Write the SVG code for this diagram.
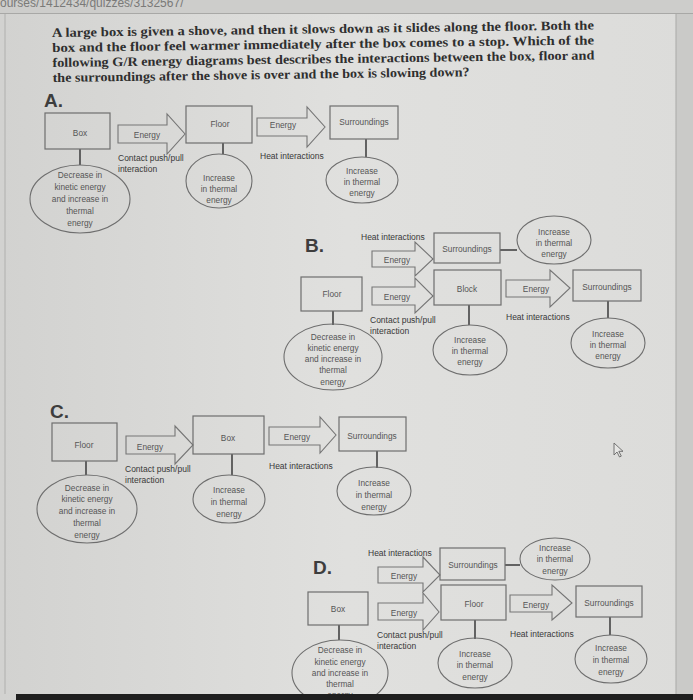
<svg xmlns="http://www.w3.org/2000/svg" width="693" height="700" viewBox="0 0 693 700">
<defs>
<linearGradient id="pg" x1="0" y1="0" x2="1" y2="0">
<stop offset="0" stop-color="#d2d2d0"/>
<stop offset="0.5" stop-color="#e0e0de"/>
<stop offset="1" stop-color="#dcdcda"/>
</linearGradient>
<style>
.ttl{font-family:"Liberation Serif",serif;font-weight:bold;font-size:13px;fill:#2f2f2f}
.big{font-family:"Liberation Sans",sans-serif;font-weight:bold;font-size:19px;fill:#3d3d3d}
.n{font-family:"Liberation Sans",sans-serif;font-size:8.3px;fill:#555;text-anchor:middle}
.e{font-family:"Liberation Sans",sans-serif;font-size:8.3px;fill:#555;text-anchor:middle}
.c{font-family:"Liberation Sans",sans-serif;font-size:8.5px;fill:#383838}
.r{fill:none;stroke:#6e6e6e;stroke-width:1.2}
.a{fill:none;stroke:#767676;stroke-width:1.1;stroke-linejoin:miter}
.s{stroke:#555;stroke-width:1.8}
.el{fill:none;stroke:#6e6e6e;stroke-width:1.1}
</style>
</defs>
<rect x="0" y="0" width="693" height="700" fill="url(#pg)"/>
<rect x="676" y="0" width="17" height="700" fill="#cacac8"/>
<line x1="676" y1="13" x2="676" y2="694" stroke="#a9a9a7" stroke-width="1"/>
<rect x="0" y="0" width="693" height="13" fill="#cdcdcb"/>
<line x1="0" y1="13.5" x2="693" y2="13.5" stroke="#a8a8a6" stroke-width="1"/>
<line x1="5" y1="14" x2="5" y2="694" stroke="#b0b0ae" stroke-width="1"/>
<text x="0" y="7" font-family="Liberation Sans,sans-serif" font-size="12" fill="#7a7a78">ourses/1412434/quizzes/3132567/</text>

<g id="question" transform="rotate(-0.8 52 37)">
<text class="ttl" x="52" y="37" textLength="542" lengthAdjust="spacingAndGlyphs">A large box is given a shove, and then it slows down as it slides along the floor.  Both the</text>
<text class="ttl" x="52" y="52" textLength="542" lengthAdjust="spacingAndGlyphs">box and the floor feel warmer immediately after the box comes to a stop.  Which of the</text>
<text class="ttl" x="52" y="67" textLength="542" lengthAdjust="spacingAndGlyphs">following G/R energy diagrams best describes the interactions between the box, floor and</text>
<text class="ttl" x="52" y="82" textLength="417" lengthAdjust="spacingAndGlyphs">the surroundings after the shove is over and the box is slowing down?</text>
</g>

<!-- Option labels -->
<text class="big" x="44" y="107">A.</text>
<text class="big" x="305" y="252">B.</text>
<text class="big" x="50" y="418">C.</text>
<text class="big" x="313" y="574">D.</text>

<!-- Connectors (arrows, stems, labels) -->
<g id="connectors">
<!-- A -->
<polygon class="a" points="118,125 167,125 167,114 185,134 167,154 167,143 118,143"/>
<text class="n" x="147" y="138">Energy</text>
<text class="c" x="118" y="161">Contact push/pull</text>
<text class="c" x="118" y="172">interaction</text>
<polygon class="a" points="257,118 307,118 307,107 325,127 307,147 307,136 257,136"/>
<text class="n" x="283" y="128">Energy</text>
<text class="c" x="260" y="159">Heat interactions</text>
<line class="s" x1="80" y1="149" x2="80" y2="165"/>
<line class="s" x1="223" y1="143" x2="223" y2="154"/>
<line class="s" x1="366" y1="139" x2="366" y2="157"/>
<!-- B -->
<text class="c" x="361" y="240">Heat interactions</text>
<polygon class="a" points="372,251 415,251 415,242 433,259 415,276 415,267 372,267"/>
<text class="n" x="397" y="263">Energy</text>
<polygon class="a" points="372,287 415,287 415,278 433,296 415,313 415,305 372,305"/>
<text class="n" x="397" y="300">Energy</text>
<text class="c" x="370" y="323">Contact push/pull</text>
<text class="c" x="370" y="334">interaction</text>
<polygon class="a" points="506,280 550,280 550,270 570,288 550,307 550,297 506,297"/>
<text class="n" x="536" y="292">Energy</text>
<text class="c" x="506" y="320">Heat interactions</text>
<line class="s" x1="500" y1="250" x2="517" y2="250"/>
<line class="s" x1="333" y1="311" x2="333" y2="325"/>
<line class="s" x1="469" y1="305" x2="469" y2="325"/>
<line class="s" x1="608" y1="301" x2="608" y2="318"/>
<!-- C -->
<polygon class="a" points="126,436 175,436 175,426 193,445 175,464 175,454 126,454"/>
<text class="n" x="150" y="450">Energy</text>
<text class="c" x="125" y="472">Contact push/pull</text>
<text class="c" x="125" y="483">interaction</text>
<polygon class="a" points="269,427 320,427 320,417 336,435 320,453 320,445 269,445"/>
<text class="n" x="297" y="440">Energy</text>
<text class="c" x="269" y="469">Heat interactions</text>
<line class="s" x1="86" y1="461" x2="86" y2="475"/>
<line class="s" x1="232" y1="454" x2="232" y2="475"/>
<line class="s" x1="377" y1="451" x2="377" y2="468"/>
<!-- D -->
<text class="c" x="368" y="556">Heat interactions</text>
<polygon class="a" points="378,567 423,567 423,557 440,575 423,592 423,583 378,583"/>
<text class="n" x="404" y="579">Energy</text>
<polygon class="a" points="378,603 423,603 423,593 439,612 423,630 423,620 378,620"/>
<text class="n" x="404" y="616">Energy</text>
<text class="c" x="377" y="638">Contact push/pull</text>
<text class="c" x="377" y="649">interaction</text>
<polygon class="a" points="510,595 552,595 552,585 572,603 552,620 552,612 510,612"/>
<text class="n" x="536" y="608">Energy</text>
<text class="c" x="510" y="637">Heat interactions</text>
<line class="s" x1="505" y1="565" x2="520" y2="565"/>
<line class="s" x1="339" y1="625" x2="339" y2="640"/>
<line class="s" x1="475" y1="620" x2="475" y2="639"/>
<line class="s" x1="610" y1="617" x2="610" y2="635"/>
</g>

<!-- A nodes -->
<g id="A-box"><rect class="r" x="45" y="113" width="65" height="36"/><text class="n" x="80" y="136">Box</text></g>
<g id="A-box-e"><ellipse class="el" cx="80" cy="199" rx="50" ry="34"/>
<text class="e" x="80" y="178">Decrease in</text><text class="e" x="80" y="190">kinetic energy</text><text class="e" x="80" y="202">and increase in</text><text class="e" x="80" y="214">thermal</text><text class="e" x="80" y="226">energy</text></g>
<g id="A-floor"><rect class="r" x="186" y="106" width="66" height="37"/><text class="n" x="220" y="127">Floor</text></g>
<g id="A-floor-e"><ellipse class="el" cx="219" cy="181" rx="33" ry="27"/>
<text class="e" x="219" y="181">Increase</text><text class="e" x="219" y="192">in thermal</text><text class="e" x="219" y="203">energy</text></g>
<g id="A-surr"><rect class="r" x="330" y="106" width="68" height="33"/><text class="n" x="364" y="125">Surroundings</text></g>
<g id="A-surr-e"><ellipse class="el" cx="362" cy="180" rx="36" ry="23"/>
<text class="e" x="362" y="174">Increase</text><text class="e" x="362" y="185">in thermal</text><text class="e" x="362" y="196">energy</text></g>

<!-- B nodes -->
<g id="B-surr1"><rect class="r" x="434" y="233" width="66" height="30"/><text class="n" x="467" y="252">Surroundings</text></g>
<g id="B-surr1-e"><ellipse class="el" cx="554" cy="240" rx="37" ry="24"/>
<text class="e" x="554" y="235">Increase</text><text class="e" x="554" y="246">in thermal</text><text class="e" x="554" y="257">energy</text></g>
<g id="B-floor"><rect class="r" x="301" y="277" width="61" height="34"/><text class="n" x="332" y="297">Floor</text></g>
<g id="B-floor-e"><ellipse class="el" cx="333" cy="357" rx="49" ry="33"/>
<text class="e" x="333" y="340">Decrease in</text><text class="e" x="333" y="351">kinetic energy</text><text class="e" x="333" y="362">and increase in</text><text class="e" x="333" y="373">thermal</text><text class="e" x="333" y="385">energy</text></g>
<g id="B-block"><rect class="r" x="434" y="270" width="67" height="35"/><text class="n" x="467" y="292">Block</text></g>
<g id="B-block-e"><ellipse class="el" cx="470" cy="350" rx="37" ry="25"/>
<text class="e" x="470" y="343">Increase</text><text class="e" x="470" y="354">in thermal</text><text class="e" x="470" y="365">energy</text></g>
<g id="B-surr2"><rect class="r" x="573" y="270" width="68" height="31"/><text class="n" x="607" y="290">Surroundings</text></g>
<g id="B-surr2-e"><ellipse class="el" cx="608" cy="343" rx="37" ry="25"/>
<text class="e" x="608" y="337">Increase</text><text class="e" x="608" y="348">in thermal</text><text class="e" x="608" y="359">energy</text></g>

<!-- C nodes -->
<g id="C-floor"><rect class="r" x="52" y="423" width="65" height="38"/><text class="n" x="84" y="448">Floor</text></g>
<g id="C-floor-e"><ellipse class="el" cx="87" cy="509" rx="50" ry="34"/>
<text class="e" x="87" y="491">Decrease in</text><text class="e" x="87" y="502">kinetic energy</text><text class="e" x="87" y="514">and increase in</text><text class="e" x="87" y="526">thermal</text><text class="e" x="87" y="538">energy</text></g>
<g id="C-box"><rect class="r" x="193" y="416" width="71" height="38"/><text class="n" x="228" y="441">Box</text></g>
<g id="C-box-e"><ellipse class="el" cx="229" cy="499" rx="36" ry="24"/>
<text class="e" x="229" y="493">Increase</text><text class="e" x="229" y="505">in thermal</text><text class="e" x="229" y="517">energy</text></g>
<g id="C-surr"><rect class="r" x="339" y="417" width="67" height="34"/><text class="n" x="372" y="439">Surroundings</text></g>
<g id="C-surr-e"><ellipse class="el" cx="374" cy="491" rx="37" ry="24"/>
<text class="e" x="374" y="486">Increase</text><text class="e" x="374" y="498">in thermal</text><text class="e" x="374" y="510">energy</text></g>

<!-- D nodes -->
<g id="D-surr1"><rect class="r" x="440" y="548" width="65" height="32"/><text class="n" x="473" y="568">Surroundings</text></g>
<g id="D-surr1-e"><ellipse class="el" cx="555" cy="559" rx="35" ry="21"/>
<text class="e" x="555" y="551">Increase</text><text class="e" x="555" y="562">in thermal</text><text class="e" x="555" y="574">energy</text></g>
<g id="D-box"><rect class="r" x="308" y="592" width="60" height="33"/><text class="n" x="338" y="612">Box</text></g>
<g id="D-box-e"><ellipse class="el" cx="340" cy="673" rx="48" ry="33"/>
<text class="e" x="340" y="653">Decrease in</text><text class="e" x="340" y="665">kinetic energy</text><text class="e" x="340" y="676">and increase in</text><text class="e" x="340" y="687">thermal</text><text class="e" x="340" y="698">energy</text></g>
<g id="D-floor"><rect class="r" x="441" y="585" width="65" height="35"/><text class="n" x="474" y="607">Floor</text></g>
<g id="D-floor-e"><ellipse class="el" cx="475" cy="663" rx="37" ry="25"/>
<text class="e" x="475" y="657">Increase</text><text class="e" x="475" y="668">in thermal</text><text class="e" x="475" y="680">energy</text></g>
<g id="D-surr2"><rect class="r" x="576" y="586" width="66" height="31"/><text class="n" x="609" y="606">Surroundings</text></g>
<g id="D-surr2-e"><ellipse class="el" cx="611" cy="659" rx="36" ry="24"/>
<text class="e" x="611" y="651">Increase</text><text class="e" x="611" y="663">in thermal</text><text class="e" x="611" y="675">energy</text></g>

<rect x="16" y="694" width="677" height="6" fill="#1f1f1f"/>

<!-- mouse cursor -->
<path d="M614,443 L614,455 L617,452 L619.5,457 L621.3,456.1 L618.8,451.3 L623,451.3 Z" fill="#e6e6e4" stroke="#666" stroke-width="0.9"/>
</svg>
